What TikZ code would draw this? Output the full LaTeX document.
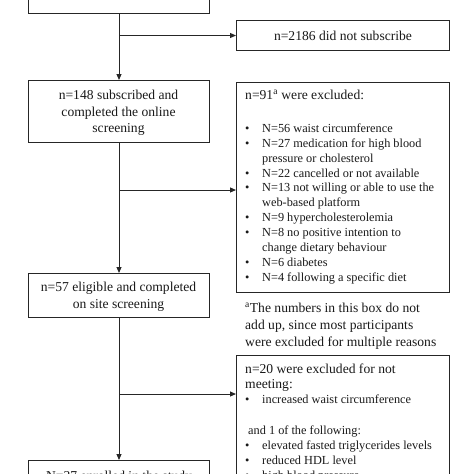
\documentclass[tikz,border=0pt]{standalone}
\usepackage{fontspec}
\setmainfont{Liberation Serif}
\usetikzlibrary{arrows.meta}
\newcommand{\bul}{\makebox[17pt][l]{\textbullet}}
\newcommand{\ind}{\hspace*{17pt}}
\newcommand{\hd}{\fontsize{13.6}{15}\selectfont}
\begin{document}
\begin{tikzpicture}[x=1pt,y=-1pt,
  box/.style={draw=black!85, line width=1pt, rectangle, inner sep=0pt, anchor=north west},
  txt/.style={inner sep=0pt, text=black!90},
  arr/.style={draw=black!85, line width=1pt, -{Triangle[length=6pt,width=5pt]}},
  ctr/.style={font=\fontsize{13.6}{16.6}\selectfont},
  lst/.style={font=\fontsize{12.3}{14.9}\selectfont}]
\useasboundingbox (0,0) rectangle (474,474);
\clip (0,0) rectangle (474,474);
% boxes
\node[box, minimum width=181, minimum height=40, anchor=south west] (b0) at (28,14) {};
\node[box, minimum width=213, minimum height=30] (b1) at (236,20) {};
\node[box, minimum width=181, minimum height=62] (b2) at (28,80) {};
\node[box, minimum width=213, minimum height=210] (b3) at (236,82) {};
\node[box, minimum width=181, minimum height=44] (b4) at (28,273) {};
\node[box, minimum width=213, minimum height=200] (b5) at (236,355) {};
\node[box, minimum width=181, minimum height=40] (b6) at (28,460) {};
% texts
\node[txt, ctr] (t1) at (b1.center) {n=2186 did not subscribe};
\node[txt, ctr, anchor=base] (t2) at (118.5,99.5) {\begin{tabular}[t]{@{}c@{}}n=148 subscribed and\\completed the online\\screening\end{tabular}};
\node[txt, lst, anchor=base west] (t3) at (245,99.5) {\begin{tabular}[t]{@{}l@{}}{\hd n=91\textsuperscript{a} were excluded:}\\[3pt]
\\
\bul N=56 waist circumference\\
\bul N=27 medication for high blood\\
\ind pressure or cholesterol\\
\bul N=22 cancelled or not available\\
\bul N=13 not willing or able to use the\\
\ind web-based platform\\
\bul N=9 hypercholesterolemia\\
\bul N=8 no positive intention to\\
\ind change dietary behaviour\\
\bul N=6 diabetes\\
\bul N=4 following a specific diet\end{tabular}};
\node[txt, ctr, anchor=base] (t4) at (118.5,291.5) {\begin{tabular}[t]{@{}c@{}}n=57 eligible and completed\\on site screening\end{tabular}};
\node[txt, font=\fontsize{13.6}{16.8}\selectfont, anchor=base west] (t5) at (245,312.5) {\begin{tabular}[t]{@{}l@{}}\textsuperscript{a}The numbers in this box do not\\add up, since most participants\\were excluded for multiple reasons\end{tabular}};
\node[txt, font=\fontsize{12.3}{15.2}\selectfont, anchor=base west] (t6) at (245,373.5) {\begin{tabular}[t]{@{}l@{}}{\hd n=20 were excluded for not}\\
{\hd meeting:}\\
\bul increased waist circumference\\
\\
\hspace*{3pt}and 1 of the following:\\
\bul elevated fasted triglycerides levels\\
\bul reduced HDL level\\
\bul high blood pressure\end{tabular}};
\node[txt, ctr, anchor=base] (t7) at (b6.north |- 0,480) {N=37 enrolled in the study};
% connectors
\draw[arr] (b0.south) -- (b2.north);
\draw[arr] (b0.south |- b1.west) -- (b1.west);
\draw[arr] (b2.south) -- (b4.north);
\draw[arr] (b2.south |- 0,190) -- (b3.west |- 0,190);
\draw[arr] (b4.south) -- (b6.north);
\coordinate (j3) at (b4.south |- 0,394);
\draw[arr] (j3) -- (j3 -| b5.west);
\end{tikzpicture}
\end{document}
